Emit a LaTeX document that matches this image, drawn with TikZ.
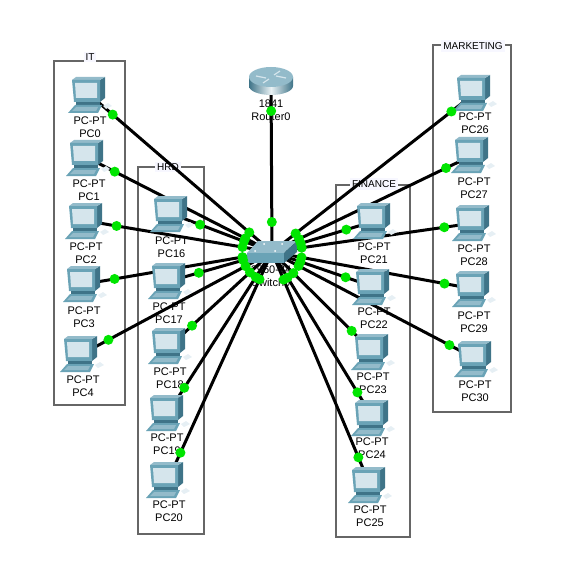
\documentclass[tikz,border=0pt]{standalone}
\usepackage{fontspec}
\setmainfont{Liberation Sans}
\usetikzlibrary{backgrounds,calc}
\definecolor{teal1}{HTML}{6AA3B6}
\definecolor{teal2}{HTML}{3F7488}
\definecolor{teal3}{HTML}{93BBCA}
\definecolor{screen}{HTML}{D5E5EC}
\tikzset{
    pc/.style={inner sep=0pt, minimum width=46pt, minimum height=42pt, path picture={
        \begin{scope}[shift={(path picture bounding box.center)}]
            \fill[teal2] (10,-15) -- (15,-18) -- (15,3) -- (10,7) -- cycle;
            \fill[teal3] (-18,-15) -- (-14,-18) -- (15,-18) -- (10,-15) -- cycle;
            \fill[teal1] (-18,-15) -- (10,-15) -- (10,7) -- (-16,7) -- cycle;
            \fill[screen] (-15,-12) -- (7,-12) -- (7,3) -- (-14,3) -- cycle;
            \fill[teal2] (-14,7) rectangle (10,10);
            \fill[teal1] (-22,18) -- (-15,10) -- (12,10) -- (8,18) -- cycle;
            \fill[teal3] (-18,16) -- (-14,12) -- (8,12) -- (6,16) -- cycle;
            \fill[screen!60!white] (13,11) -- (18,8) -- (22,11) -- (16,14) -- cycle;
        \end{scope}}},
    router/.style={inner sep=0pt, minimum width=46pt, minimum height=30pt, path picture={
        \begin{scope}[shift={(path picture bounding box.center)}]
            \shade[left color=teal2, right color=teal2, middle color=white!85!teal1]
                (-22,-4) -- (-22,5) arc[start angle=180, end angle=0, x radius=22, y radius=9] -- (22,-4) -- cycle;
            \fill[teal3] (0,-4) ellipse[x radius=22, y radius=10];
            \draw[screen, line width=1.2pt] (-15,-5) -- (-5,-3) (15,-3) -- (5,-5) (-8,2) -- (-2,-2) (9,-10) -- (3,-6);
        \end{scope}}},
    switch/.style={inner sep=0pt, minimum width=52pt, minimum height=24pt, path picture={
        \begin{scope}[shift={(path picture bounding box.center)}]
            \fill[teal3] (-14,-11) -- (25,-11) -- (12,1) -- (-25,1) -- cycle;
            \fill[teal1] (-25,1) rectangle (12,11);
            \fill[teal2] (12,1) -- (25,-11) -- (25,0) -- (12,11) -- cycle;
            \fill[white] (-17,-1) circle (1pt) (-8,-8) circle (1pt) (10,-8) circle (1pt) (3,-1) circle (1pt);
        \end{scope}}},
    devlabel/.style={inner sep=0pt, align=center, font=\fontsize{11}{13}\selectfont},
    grouplabel/.style={inner sep=2pt, fill=blue!3!white, font=\fontsize{10}{12}\selectfont},
    groupbox/.style={draw=black!60, line width=1.4pt},
    link/.style={line width=3pt},
    dot/.style={circle, fill=green!90!black, inner sep=0pt, minimum size=10pt}
}
\begin{document}
\begin{tikzpicture}[x=1pt,y=-1pt]
    \useasboundingbox (0,0) rectangle (561,572);

    % Router and switch
    \node[router] (r0) at (271,81) {};
    \node[switch] (sw) at (272,252) {};

    % IT
    \node[pc] (pc0) at (90,95) {};
    \node[pc] (pc1) at (88,158) {};
    \node[pc] (pc2) at (87,221) {};
    \node[pc] (pc3) at (85,284) {};
    \node[pc] (pc4) at (82,354) {};

    % HRD
    \node[pc] (pc16) at (172,214) {};
    \node[pc] (pc17) at (170,281) {};
    \node[pc] (pc18) at (170,346) {};
    \node[pc] (pc19) at (168,413) {};
    \node[pc] (pc20) at (168,480) {};

    % FINANCE
    \node[pc] (pc21) at (375,221) {};
    \node[pc] (pc22) at (374,287) {};
    \node[pc] (pc23) at (373,352) {};
    \node[pc] (pc24) at (373,418) {};
    \node[pc] (pc25) at (370,485) {};

    % MARKETING
    \node[pc] (pc26) at (475,93) {};
    \node[pc] (pc27) at (473,155) {};
    \node[pc] (pc28) at (474,223) {};
    \node[pc] (pc29) at (474,289) {};
    \node[pc] (pc30) at (476,359) {};

    \begin{scope}[on background layer]
        % Group boxes
        \draw[groupbox] (54,61) rectangle (125,405);
        \draw[groupbox] (138,167) rectangle (204,534);
        \draw[groupbox] (336,185) rectangle (410,537);
        \draw[groupbox] (433,45) rectangle (511,412);
        \node[grouplabel] (it) at (90,57) {IT};
        \node[grouplabel] (hrd) at (168,167) {HRD};
        \node[grouplabel] (finance) at (374,184) {FINANCE};
        \node[grouplabel] (marketing) at (473,46) {MARKETING};

        % Device labels
        \node[devlabel] (r0txt) at (271,110.5) {1841\\Router0};
        \node[devlabel] (swtxt) at (271,276) {2960-24\\Switch0};
        \node[devlabel] (pc0txt) at (90,127) {PC-PT\\PC0};
        \node[devlabel] (pc1txt) at (89,190) {PC-PT\\PC1};
        \node[devlabel] (pc2txt) at (86,253) {PC-PT\\PC2};
        \node[devlabel] (pc3txt) at (84,317.5) {PC-PT\\PC3};
        \node[devlabel] (pc4txt) at (83,386) {PC-PT\\PC4};
        \node[devlabel] (pc16txt) at (171.5,247) {PC-PT\\PC16};
        \node[devlabel] (pc17txt) at (169,313) {PC-PT\\PC17};
        \node[devlabel] (pc18txt) at (170,378) {PC-PT\\PC18};
        \node[devlabel] (pc19txt) at (167,444.5) {PC-PT\\PC19};
        \node[devlabel] (pc20txt) at (169,511) {PC-PT\\PC20};
        \node[devlabel] (pc21txt) at (374,253) {PC-PT\\PC21};
        \node[devlabel] (pc22txt) at (374,318) {PC-PT\\PC22};
        \node[devlabel] (pc23txt) at (373,383) {PC-PT\\PC23};
        \node[devlabel] (pc24txt) at (372,448) {PC-PT\\PC24};
        \node[devlabel] (pc25txt) at (370,516) {PC-PT\\PC25};
        \node[devlabel] (pc26txt) at (475,123) {PC-PT\\PC26};
        \node[devlabel] (pc27txt) at (474,188) {PC-PT\\PC27};
        \node[devlabel] (pc28txt) at (474,255) {PC-PT\\PC28};
        \node[devlabel] (pc29txt) at (474,322) {PC-PT\\PC29};
        \node[devlabel] (pc30txt) at (475,391.5) {PC-PT\\PC30};

        % Links
        \draw[link] (r0.center) -- (sw.center);
        \draw[link] (pc0.center) -- (sw.center);
        \draw[link] (pc1.center) -- (sw.center);
        \draw[link] (pc2.center) -- (sw.center);
        \draw[link] (pc3.center) -- (sw.center);
        \draw[link] (pc4.center) -- (sw.center);
        \draw[link] (pc16.center) -- (sw.center);
        \draw[link] (pc17.center) -- (sw.center);
        \draw[link] (pc18.center) -- (sw.center);
        \draw[link] (pc19.center) -- (sw.center);
        \draw[link] (pc20.center) -- (sw.center);
        \draw[link] (pc21.center) -- (sw.center);
        \draw[link] (pc22.center) -- (sw.center);
        \draw[link] (pc23.center) -- (sw.center);
        \draw[link] (pc24.center) -- (sw.center);
        \draw[link] (pc25.center) -- (sw.center);
        \draw[link] (pc26.center) -- (sw.center);
        \draw[link] (pc27.center) -- (sw.center);
        \draw[link] (pc28.center) -- (sw.center);
        \draw[link] (pc29.center) -- (sw.center);
        \draw[link] (pc30.center) -- (sw.center);
    \end{scope}

    % Link lights, device end
    \node[dot] (r0a) at ($(r0)!30pt!(sw)$) {};
    \node[dot] (pc0a) at ($(pc0)!30pt!(sw)$) {};
    \node[dot] (pc1a) at ($(pc1)!30pt!(sw)$) {};
    \node[dot] (pc2a) at ($(pc2)!30pt!(sw)$) {};
    \node[dot] (pc3a) at ($(pc3)!30pt!(sw)$) {};
    \node[dot] (pc4a) at ($(pc4)!30pt!(sw)$) {};
    \node[dot] (pc16a) at ($(pc16)!30pt!(sw)$) {};
    \node[dot] (pc17a) at ($(pc17)!30pt!(sw)$) {};
    \node[dot] (pc18a) at ($(pc18)!30pt!(sw)$) {};
    \node[dot] (pc19a) at ($(pc19)!30pt!(sw)$) {};
    \node[dot] (pc20a) at ($(pc20)!30pt!(sw)$) {};
    \node[dot] (pc21a) at ($(pc21)!30pt!(sw)$) {};
    \node[dot] (pc22a) at ($(pc22)!30pt!(sw)$) {};
    \node[dot] (pc23a) at ($(pc23)!30pt!(sw)$) {};
    \node[dot] (pc24a) at ($(pc24)!30pt!(sw)$) {};
    \node[dot] (pc25a) at ($(pc25)!30pt!(sw)$) {};
    \node[dot] (pc26a) at ($(pc26)!30pt!(sw)$) {};
    \node[dot] (pc27a) at ($(pc27)!30pt!(sw)$) {};
    \node[dot] (pc28a) at ($(pc28)!30pt!(sw)$) {};
    \node[dot] (pc29a) at ($(pc29)!30pt!(sw)$) {};
    \node[dot] (pc30a) at ($(pc30)!30pt!(sw)$) {};

    % Link lights, switch end
    \node[dot] (r0b) at ($(sw)!30pt!(r0)$) {};
    \node[dot] (pc0b) at ($(sw)!30pt!(pc0)$) {};
    \node[dot] (pc1b) at ($(sw)!30pt!(pc1)$) {};
    \node[dot] (pc2b) at ($(sw)!30pt!(pc2)$) {};
    \node[dot] (pc3b) at ($(sw)!30pt!(pc3)$) {};
    \node[dot] (pc4b) at ($(sw)!30pt!(pc4)$) {};
    \node[dot] (pc16b) at ($(sw)!30pt!(pc16)$) {};
    \node[dot] (pc17b) at ($(sw)!30pt!(pc17)$) {};
    \node[dot] (pc18b) at ($(sw)!30pt!(pc18)$) {};
    \node[dot] (pc19b) at ($(sw)!30pt!(pc19)$) {};
    \node[dot] (pc20b) at ($(sw)!30pt!(pc20)$) {};
    \node[dot] (pc21b) at ($(sw)!30pt!(pc21)$) {};
    \node[dot] (pc22b) at ($(sw)!30pt!(pc22)$) {};
    \node[dot] (pc23b) at ($(sw)!30pt!(pc23)$) {};
    \node[dot] (pc24b) at ($(sw)!30pt!(pc24)$) {};
    \node[dot] (pc25b) at ($(sw)!30pt!(pc25)$) {};
    \node[dot] (pc26b) at ($(sw)!30pt!(pc26)$) {};
    \node[dot] (pc27b) at ($(sw)!30pt!(pc27)$) {};
    \node[dot] (pc28b) at ($(sw)!30pt!(pc28)$) {};
    \node[dot] (pc29b) at ($(sw)!30pt!(pc29)$) {};
    \node[dot] (pc30b) at ($(sw)!30pt!(pc30)$) {};
\end{tikzpicture}
\end{document}
